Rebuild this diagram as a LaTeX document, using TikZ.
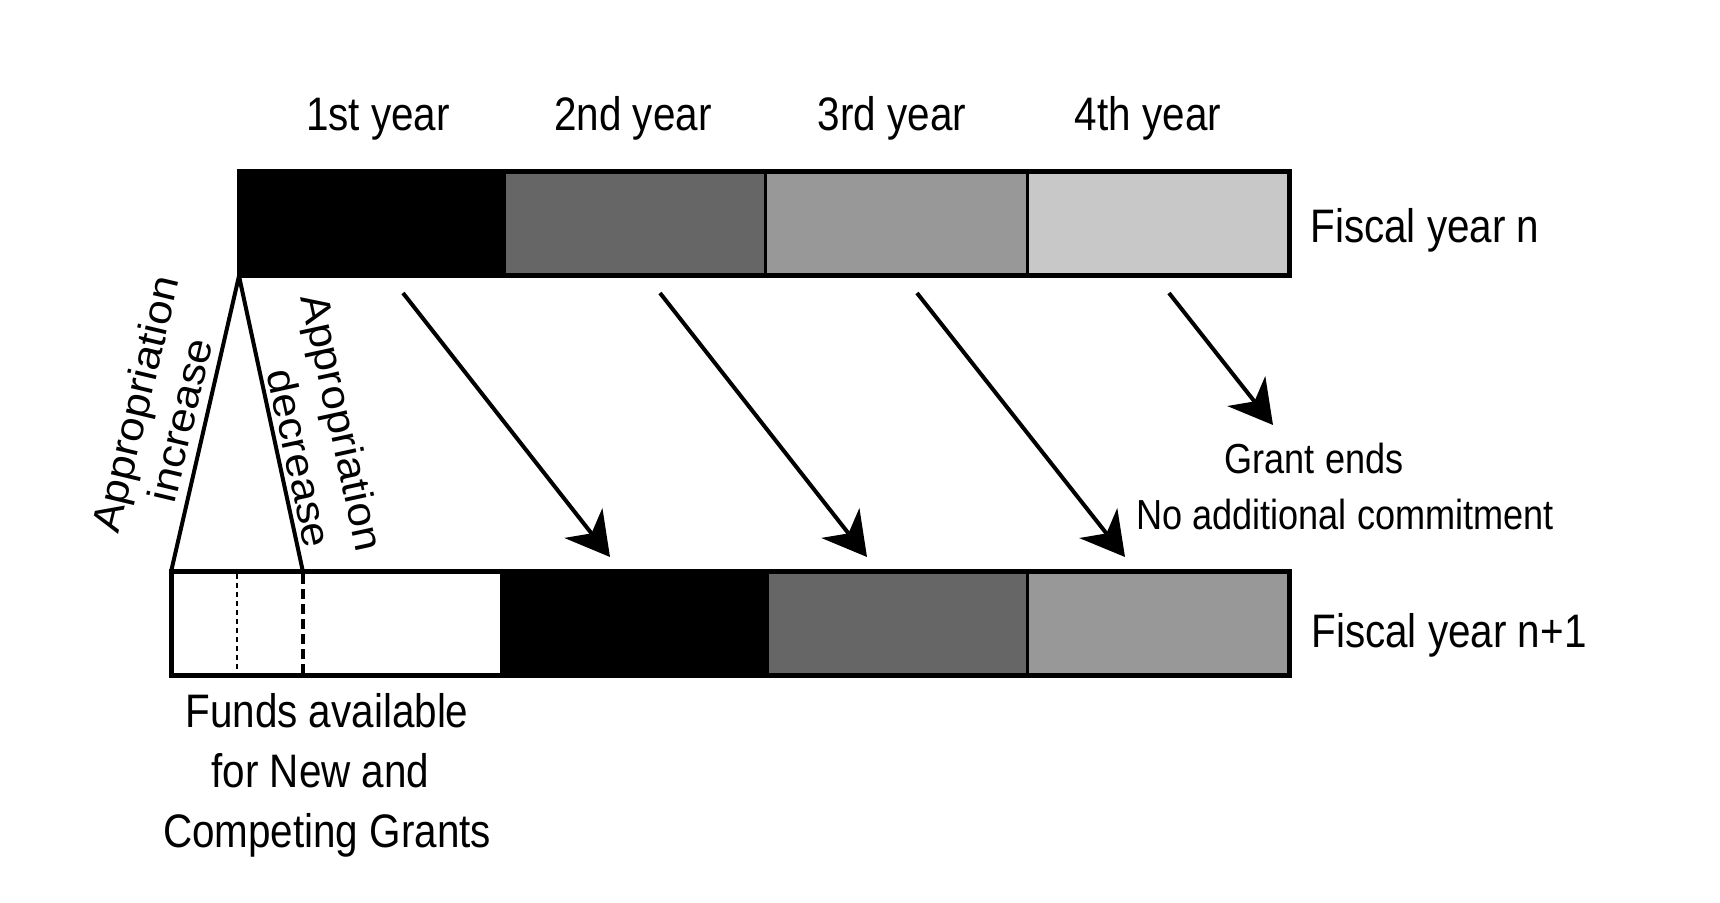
\documentclass[tikz,border=0pt]{standalone}
\usepackage{fontspec}
\setmainfont{Liberation Sans}[FakeStretch=0.86]
\newfontfamily\rotfont{Liberation Sans}
\usetikzlibrary{arrows.meta}
\definecolor{gdark}{HTML}{666666}
\definecolor{gmid}{HTML}{989898}
\definecolor{glight}{HTML}{C8C8C8}
\begin{document}
\begin{tikzpicture}[x=0.5pt,y=-0.5pt,
  cell/.style={draw=black,line width=1.5pt},
  frame/.style={draw=black,line width=2.5pt},
  lbl/.style={inner sep=0pt,anchor=base,font=\fontsize{23.5pt}{28pt}\selectfont},
  lblw/.style={inner sep=0pt,anchor=base west,font=\fontsize{23.5pt}{28pt}\selectfont},
  small/.style={inner sep=0pt,anchor=base,font=\fontsize{21pt}{26pt}\selectfont},
  rot/.style={inner sep=0pt,font=\rotfont\fontsize{22pt}{26pt}\selectfont},
  wedge/.style={line width=2pt},
  grantarrow/.style={line width=2pt,-{Stealth[length=21.5pt,width=24pt,inset=6.5pt]}},
  thindash/.style={line width=1pt,dash pattern=on 2.5pt off 2pt},
  thickdash/.style={line width=2pt,dash pattern=on 5pt off 2.5pt}
]
\useasboundingbox[fill=white] (0,0) rectangle (1720,903);

% top bar (fiscal year n)
\path[cell,fill=black]  (239,172) rectangle (504,276);
\path[cell,fill=gdark]  (504,172) rectangle (765,276);
\path[cell,fill=gmid]   (765,172) rectangle (1027,276);
\path[cell,fill=glight] (1027,172) rectangle (1289,276);
\draw[frame] (239,172) rectangle (1289,276);

% bottom bar (fiscal year n+1)
\path[cell,fill=white]  (171,572) rectangle (501,675);
\path[cell,fill=black]  (501,572) rectangle (767,675);
\path[cell,fill=gdark]  (767,572) rectangle (1027,675);
\path[cell,fill=gmid]   (1027,572) rectangle (1289,675);
\draw[frame] (171,572) rectangle (1289,675);

% year labels
\node[lbl] (y1) at (378,131) {1st year};
\node[lbl] (y2) at (633,131) {2nd year};
\node[lbl] (y3) at (892,131) {3rd year};
\node[lbl] (y4) at (1148,131) {4th year};

% fiscal year labels
\node[lblw] (fyn)  at (1310,243) {Fiscal year n};
\node[lblw] (fyn1) at (1311,647) {Fiscal year n+1};

% wedge
\coordinate (apex) at (239,276);
\coordinate (incend) at (171,572);
\coordinate (decend) at (303,572);
\draw[wedge] (incend) -- (apex) -- (decend);

% dashed markers
\coordinate (d1t) at (237,574);
\coordinate (d1b) at (237,673);
\coordinate (d2t) at (303,574);
\coordinate (d2b) at (303,673);
\draw[thindash] (d1t) -- (d1b);
\draw[thickdash] (d2t) -- (d2b);

% rotated labels
\node[rot,rotate=76.6] (inc1) at (139,405) {\scalebox{1}[0.92]{Appropriation}};
\node[rot,rotate=76.6] (inc2) at (180,420) {\scalebox{1}[0.92]{increase}};
\node[rot,rotate=-77.7] (dec1) at (339,423) {\scalebox{1}[0.92]{Appropriation}};
\node[rot,rotate=-77.7] (dec2) at (300,458) {\scalebox{1}[0.92]{decrease}};

% arrows
\coordinate (a1s) at (403,293); \coordinate (a1e) at (610,557);
\coordinate (a2s) at (660,293); \coordinate (a2e) at (867,557);
\coordinate (a3s) at (917,293); \coordinate (a3e) at (1125,557);
\coordinate (a4s) at (1169,293); \coordinate (a4e) at (1273,425);
\draw[grantarrow] (a1s) -- (a1e);
\draw[grantarrow] (a2s) -- (a2e);
\draw[grantarrow] (a3s) -- (a3e);
\draw[grantarrow] (a4s) -- (a4e);

% grant ends text
\node[small] (ge1) at (1314,474) {Grant ends};
\node[small] (ge2) at (1345,530) {No additional commitment};

% funds text
\node[inner sep=0pt,anchor=base,align=center,
      font=\fontsize{23.5pt}{30pt}\selectfont] (funds) at (327,847)
  {Funds available\\for New and\kern.28em\\Competing Grants};
\end{tikzpicture}
\end{document}
